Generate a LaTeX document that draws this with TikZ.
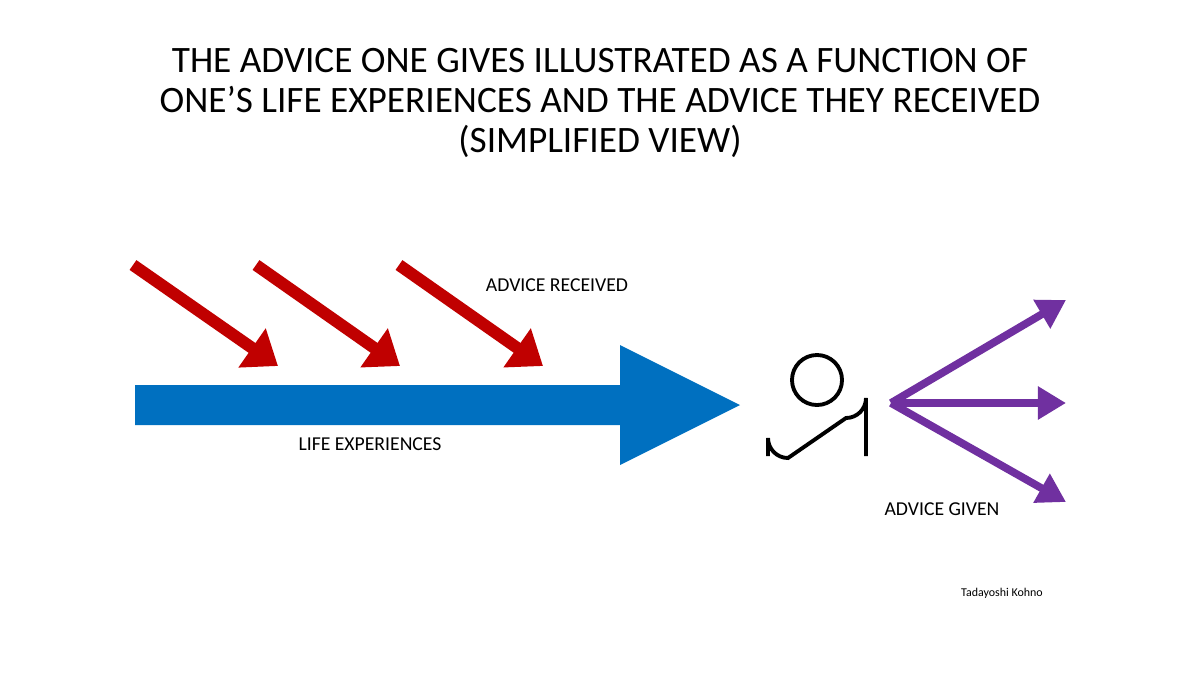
\documentclass[tikz,border=0pt]{standalone}
\usepackage{fontspec}
\setmainfont{Carlito}
\usetikzlibrary{arrows.meta}
\definecolor{AdvRed}{HTML}{C00000}
\definecolor{LifeBlue}{HTML}{0070C0}
\definecolor{GivePurple}{HTML}{7030A0}

\begin{document}
\begin{tikzpicture}[
    x=0.01cm, y=-0.01cm,
    % 箭头样式
    received/.style={AdvRed, line width=3.4pt, -{Triangle[length=9pt,width=13pt]}},
    given/.style={GivePurple, line width=2.2pt, -{Triangle[length=8pt,width=9pt]}},
    label/.style={font=\fontsize{5.6}{6.5}\selectfont}
]
    \useasboundingbox (0,0) rectangle (1200,675);

    % --- 1. 标题 ---
    \node[align=center, font=\fontsize{10.6}{11.4}\selectfont] (title) at (600,103)
        {THE ADVICE ONE GIVES ILLUSTRATED AS A FUNCTION OF\\
         ONE’S LIFE EXPERIENCES AND THE ADVICE THEY RECEIVED\\
         (SIMPLIFIED VIEW)};

    % --- 2. 蓝色大箭头 ---
    \fill[LifeBlue] (135,385) -- (620,385) -- (620,345) -- (740,405)
        -- (620,465) -- (620,425) -- (135,425) -- cycle;
    \node[label] (life) at (370,444) {LIFE EXPERIENCES};

    % --- 3. 红色箭头 ---
    \foreach \sx/\tx [count=\i] in {133/278, 256/400, 399/543} {
        \coordinate (r\i s) at (\sx,265);
        \coordinate (r\i t) at (\tx,366);
        \draw[received] (r\i s) -- (r\i t);
    }
    \node[label] (received) at (557,285) {ADVICE RECEIVED};

    % --- 4. 人像 ---
    \node[draw, circle, line width=1.1pt, inner sep=0pt, minimum size=0.5cm] (head) at (817,380) {};
    \draw[line width=1.1pt] (768,456) -- (768,438) arc[start angle=180, end angle=90, radius=20]
        -- (846,418) arc[start angle=90, end angle=0, radius=20] -- (866,456);

    % --- 5. 紫色箭头 ---
    \coordinate (fork) at (891,403);
    \foreach \ty [count=\i] in {300, 403, 502} {
        \coordinate (g\i) at (1066,\ty);
        \draw[given] (fork) -- (g\i);
    }
    \node[label] (given) at (942,509) {ADVICE GIVEN};

    % --- 6. 署名 ---
    \node[font=\fontsize{3.4}{4}\selectfont] (author) at (1002,593) {Tadayoshi Kohno};
\end{tikzpicture}
\end{document}
